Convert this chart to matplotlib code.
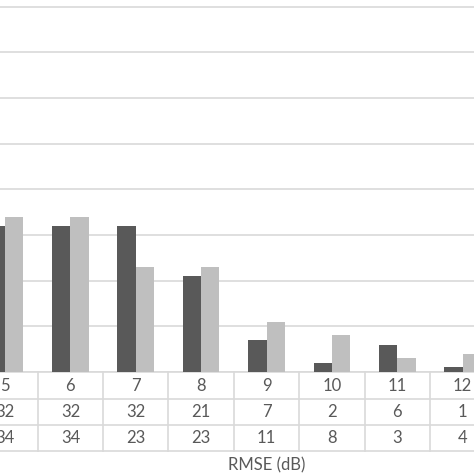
import matplotlib
matplotlib.use("Agg")
from matplotlib import pyplot as plt
from matplotlib.transforms import blended_transform_factory
import numpy as np

plt.rcParams['font.family'] = ['Lato', 'DejaVu Sans']

# RMSE bins (dB) and the counts for the two series
rmse_bins = [5, 6, 7, 8, 9, 10, 11, 12]
series_dark = [32, 32, 32, 21, 7, 2, 6, 1]
series_light = [34, 34, 23, 23, 11, 8, 3, 4]

dark_col = "#595959"
light_col = "#bfbfbf"
grid_col = "#d9d9d9"
text_col = "#595959"

W = 474
fig = plt.figure(figsize=(4.74, 4.74), dpi=100)
base_px = 372  # baseline of the plot, pixels from top
ax = fig.add_axes([0, 1 - base_px / W, 1, base_px / W])

x = np.array(rmse_bins, dtype=float)
bw = 0.28
ax.bar(x - bw / 2, series_dark, width=bw, color=dark_col, zorder=3)
ax.bar(x + bw / 2, series_light, width=bw, color=light_col, zorder=3)

ax.set_xlim(4.923, 12.173)
ax.set_ylim(0, base_px / 4.566)
ax.set_yticks(range(0, 90, 10))
ax.yaxis.grid(True, color=grid_col, linewidth=1.2, zorder=0)
ax.tick_params(left=False, bottom=False, labelleft=False, labelbottom=False)
for s in ax.spines.values():
    s.set_visible(False)

# data table below the bars
trans = blended_transform_factory(ax.transData, fig.transFigure)
def fy(px):
    return 1 - px / W

row_lines = [372, 399, 425, 451]
for y in row_lines:
    ax.plot([4.5, 12.7], [fy(y), fy(y)], color=grid_col, lw=1.2,
            transform=trans, clip_on=False, zorder=1)
for b in rmse_bins[:-1]:
    ax.plot([b + 0.5, b + 0.5], [fy(372), fy(451)], color=grid_col, lw=1.2,
            transform=trans, clip_on=False, zorder=1)

rows = [rmse_bins, series_dark, series_light]
row_centers = [386, 412, 438]
for vals, yc in zip(rows, row_centers):
    for b, v in zip(rmse_bins, vals):
        ax.text(b, fy(yc), str(v), ha="center", va="center", fontsize=12,
                color=text_col, transform=trans, clip_on=False)

fig.text(266.7 / W, fy(465), "RMSE (dB)", ha="center", va="center",
         fontsize=12, color=text_col)

fig.savefig("out.png", dpi=100, facecolor="white")
